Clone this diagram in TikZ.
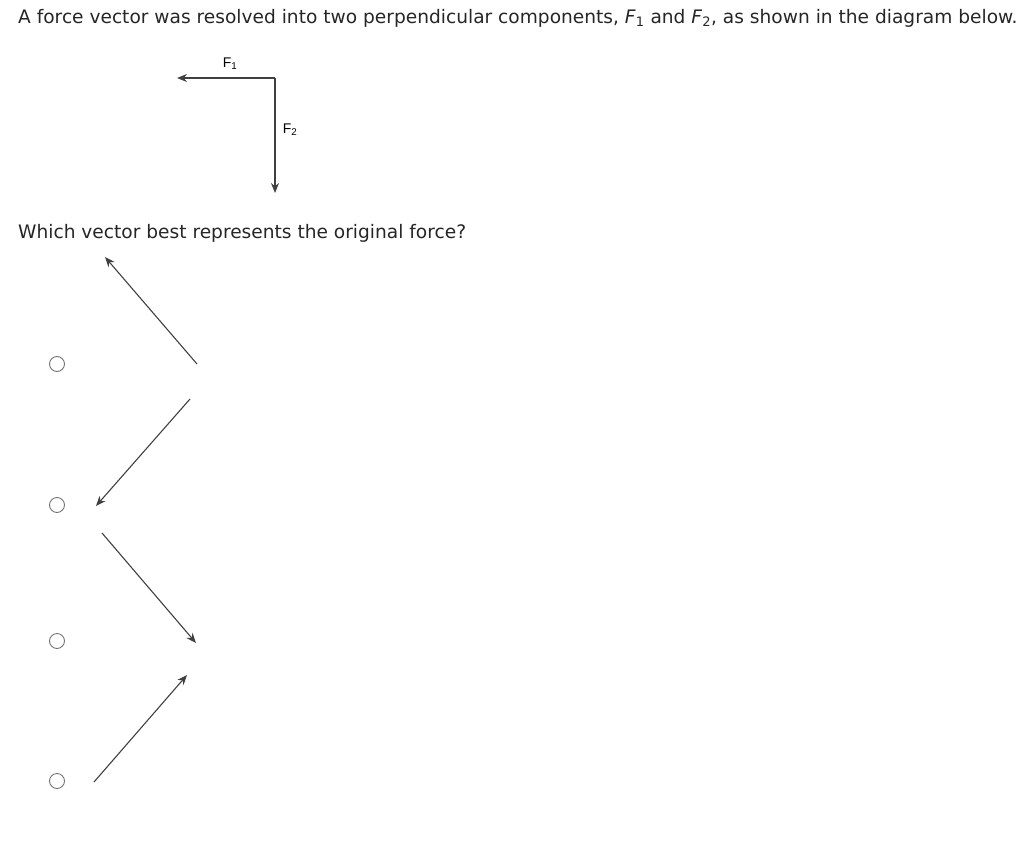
\documentclass[tikz,border=0pt]{standalone}
\usepackage{fontspec}
\setmainfont{DejaVu Sans}
\newfontfamily\arialf{Liberation Sans}
\usetikzlibrary{arrows.meta}
\begin{document}
\begin{tikzpicture}[x=1pt,y=-1pt,
  vec/.style={draw=black!75,line width=1.1pt,-{Stealth[length=10pt,width=8pt]}},
  lbl/.style={font=\arialf\fontsize{14}{16}\selectfont,inner sep=0pt},
  txt/.style={font=\fontsize{18.6}{22}\selectfont,inner sep=0pt,anchor=west,text=black!85},
  opt/.style={draw=black!55,line width=0.9pt,circle,minimum size=15pt,inner sep=0pt}]
\useasboundingbox (0,0) rectangle (1024,848);
\node[txt] (q1) at (18,18) {A force vector was resolved into two perpendicular components, \textit{F}\textsubscript{1} and \textit{F}\textsubscript{2}, as shown in the diagram below.};
\coordinate (c) at (275,78);
\coordinate (f1) at (177,78);
\coordinate (f2) at (275,193);
\draw[vec] (c) -- (f1);
\draw[vec] (c) -- (f2);
\node[lbl] (l1) at (230,64) {F\textsubscript{1}};
\node[lbl] (l2) at (290,130) {F\textsubscript{2}};
\node[txt] (q2) at (18,233) {Which vector best represents the original force?};
\node[opt] (o1) at (57,364) {};
\node[opt] (o2) at (57,505) {};
\node[opt] (o3) at (57,641) {};
\node[opt] (o4) at (57,781) {};
\coordinate (a1) at (197,364); \coordinate (a2) at (105,257);
\coordinate (b1) at (190,399); \coordinate (b2) at (96,506);
\coordinate (c1) at (102,533); \coordinate (c2) at (196,643);
\coordinate (d1) at (94,782); \coordinate (d2) at (187,675);
\draw[vec] (a1) -- (a2);
\draw[vec] (b1) -- (b2);
\draw[vec] (c1) -- (c2);
\draw[vec] (d1) -- (d2);
\end{tikzpicture}
\end{document}
